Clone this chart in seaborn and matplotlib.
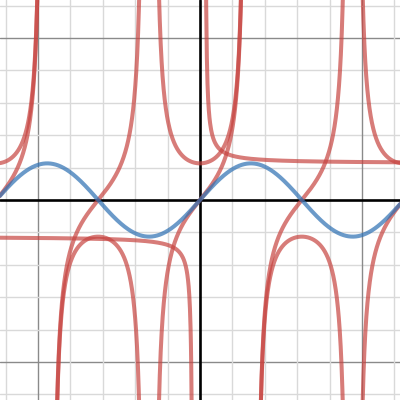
import numpy as np
import matplotlib
matplotlib.use("Agg")
import matplotlib.pyplot as plt
import seaborn as sns

# view and curve parameters
x_range = [-6.17, 6.17]
amp = 1.13            # blue amplitude / red asymptote level
freq = 1.1            # red branch compression
centers = [-2, -1, 0, 1, 2]   # branch centres in multiples of pi
flat_poles = [-0.22, 0.15]    # poles of the flat-tailed curves
flat_b = 0.2

RED = "#c74440"
BLUE = "#2d70b3"

sns.set_style("white")
fig = plt.figure(figsize=(4, 4), dpi=100)
ax = fig.add_axes([0, 0, 1, 1])

lim = 8
def draw(x, y, color=RED, alpha=0.7):
    y = np.clip(y, -lim, lim)
    sns.lineplot(x=x, y=y, color=color, alpha=alpha, lw=2.9, ax=ax,
                 sort=False, estimator=None, solid_capstyle="round")

# grid
for v in np.arange(-6, 7):
    major = v % 5 == 0
    c = "#8a8a8a" if major else "#d9d9d9"
    if v != 0:
        ax.axvline(v, color=c, lw=1.0, zorder=0)
        ax.axhline(v, color=c, lw=1.0, zorder=0)
ax.axvline(0, color="black", lw=1.9, zorder=1)
ax.axhline(0, color="black", lw=1.9, zorder=1)

half = np.pi / 2 / freq
for k in centers:
    c0 = k * np.pi
    xs = np.linspace(c0 - half + 1e-3, c0 + half - 1e-3, 600)
    u = freq * (xs - c0)
    draw(xs, amp * np.tan(u))
    sign = 1 if k % 2 == 0 else -1
    draw(xs, sign * amp / np.cos(u))

# flat-tailed curves
xl = np.linspace(x_range[0], flat_poles[0] - 1e-3, 600)
draw(xl, -amp + flat_b / (xl - flat_poles[0]))
xr = np.linspace(flat_poles[1] + 1e-3, x_range[1], 600)
draw(xr, amp + flat_b / (xr - flat_poles[1]))

# blue sine
xb = np.linspace(x_range[0], x_range[1], 800)
draw(xb, amp * np.sin(xb), color=BLUE, alpha=0.7)

ax.set_xlim(*x_range)
ax.set_ylim(*x_range)
ax.set_xticks([]); ax.set_yticks([])
for s in ax.spines.values():
    s.set_visible(False)
fig.savefig("out.png", dpi=100)
